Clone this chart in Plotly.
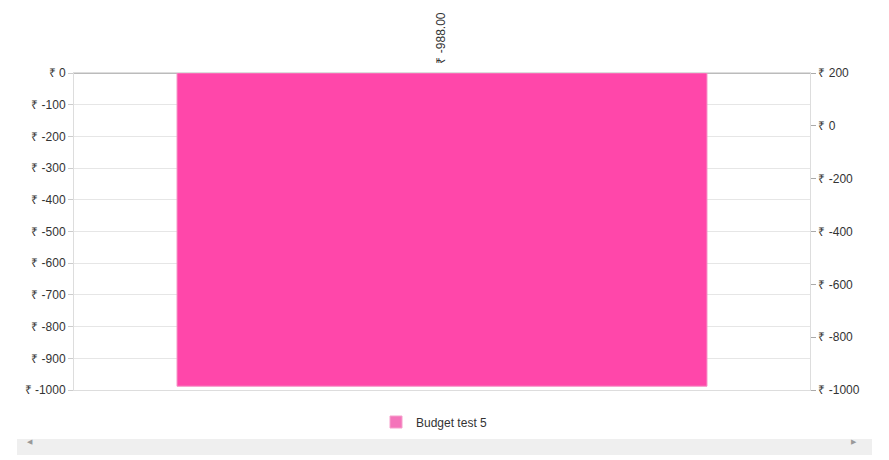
import plotly.graph_objects as go

categories = ["Budget test 5"]
values = [-988.0]
left_ticks = [0, -100, -200, -300, -400, -500, -600, -700, -800, -900, -1000]
right_ticks = [200, 0, -200, -400, -600, -800, -1000]

OFF = 8  # page body offset
W, H = 889, 460
L, R, T, B = 74 - OFF, 810 - OFF, 73 - OFF, 390 - OFF
pw, ph = R - L, B - T

def px_x(x):
    return (x - OFF - L) / pw

def px_y(y):
    return (B - (y - OFF)) / ph

fig = go.Figure()
fig.add_trace(go.Bar(
    x=categories, y=values, name=categories[0],
    marker=dict(color="#FF47AA", line=dict(color="#F58FC4", width=1)),
    showlegend=False,
))
# legend entry (lighter swatch as in the reference)
fig.add_trace(go.Bar(
    x=categories, y=[None], name=categories[0],
    marker=dict(color="#F474BA", line=dict(color="#F6A0CC", width=1)),
    showlegend=True, hoverinfo="skip",
))
# invisible trace to activate secondary axis
fig.add_trace(go.Scatter(x=categories, y=[None], yaxis="y2", showlegend=False,
                         hoverinfo="skip", mode="markers"))

fig.add_annotation(
    x=categories[0], y=0, xref="x", yref="y",
    text="₹ " + f"{values[0]:.2f}", textangle=-90,
    showarrow=False, yanchor="bottom", xanchor="center", yshift=7, xshift=-2,
    font=dict(size=12, color="#333333"),
)

fmt = lambda v: "₹ " + str(v)

fig.update_layout(
    width=W, height=H, autosize=False,
    margin=dict(l=L, r=W - R, t=T, b=H - B, pad=0),
    paper_bgcolor="white", plot_bgcolor="white",
    font=dict(family="Liberation Sans, Arial, sans-serif", size=12, color="#333333"),
    bargap=0.28, barmode="overlay",
    xaxis=dict(showticklabels=False, showgrid=False, showline=True, mirror=True,
               linecolor="#dddddd", linewidth=1, zeroline=False, fixedrange=True),
    yaxis=dict(range=[-1000, 0], tickvals=left_ticks,
               ticktext=[fmt(v) for v in left_ticks],
               showgrid=True, gridcolor="#e6e6e6", gridwidth=1,
               zeroline=True, zerolinecolor="#bbbbbb", zerolinewidth=1,
               showline=True, linecolor="#dddddd",
               ticks="outside", ticklen=5, tickcolor="#cccccc"),
    yaxis2=dict(range=[-1000, 200], overlaying="y", side="right",
                tickvals=right_ticks, ticktext=[fmt(v) for v in right_ticks],
                showgrid=False, zeroline=False, showline=True, linecolor="#dddddd",
                ticks="outside", ticklen=5, tickcolor="#aaaaaa"),
    legend=dict(orientation="h", x=px_x(376), xanchor="left", y=px_y(422), yanchor="middle",
                font=dict(size=12, color="#333333"), itemwidth=30),
    showlegend=True,
)

# scrollbar decoration
fig.add_shape(type="rect", xref="paper", yref="paper",
              x0=px_x(17), x1=px_x(872), y0=px_y(455), y1=px_y(439),
              fillcolor="#efefef", line=dict(width=0), layer="below")
fig.add_annotation(xref="paper", yref="paper", x=px_x(25), y=px_y(447), text="◀",
                   showarrow=False, font=dict(size=7, color="#999999"))
fig.add_annotation(xref="paper", yref="paper", x=px_x(859), y=px_y(447), text="▶",
                   showarrow=False, font=dict(size=7, color="#999999"))

fig.write_html("out.html")
